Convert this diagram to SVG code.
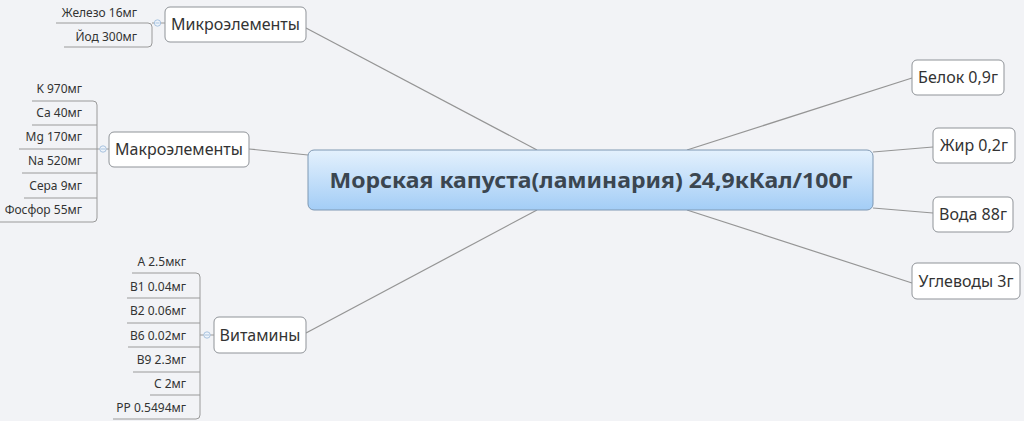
<svg xmlns="http://www.w3.org/2000/svg" width="1024" height="421" viewBox="0 0 1024 421">
<defs>
<linearGradient id="cg" x1="0" y1="0" x2="0" y2="1">
<stop offset="0" stop-color="#e4f1fd"/>
<stop offset="1" stop-color="#a3cdf6"/>
</linearGradient>
<style>
text{font-family:"Noto Sans","Open Sans","DejaVu Sans",sans-serif;fill:#333}
.box{fill:#fff;stroke:#8f9398;stroke-width:1}
.bt{font-size:16px;text-anchor:middle}
.st{font-size:12px;text-anchor:end}
.conn{stroke:#959595;stroke-width:1.2;fill:none}
.ul{stroke:#9a9a9a;stroke-width:1;fill:none}
.knob{fill:#eef4fb;stroke:#a9c3df;stroke-width:1}
.knobm{stroke:#a9c3df;stroke-width:1}
</style>
</defs>
<rect width="1024" height="421" fill="#f2f3f6"/>
<g id="connectors">
<path class="conn" d="M306,28 L537,150"/>
<path class="conn" d="M249,149 L308,155"/>
<path class="conn" d="M306,333 L537,210"/>
<path class="conn" d="M687,150 L912,78"/>
<path class="conn" d="M873,152 L933,147"/>
<path class="conn" d="M873,208 L933,213"/>
<path class="conn" d="M687,210 L912,283"/>
</g>
<g id="center">
<rect x="308" y="150" width="565" height="60" rx="6" fill="url(#cg)" stroke="#7e98b3" stroke-width="1"/>
<text x="591" y="188" text-anchor="middle" font-size="22" font-weight="bold" style="fill:#3b4650" textLength="523" lengthAdjust="spacingAndGlyphs">Морская капуста(ламинария) 24,9кКал/100г</text>
</g>
<g id="micro">
<rect class="box" x="165" y="7" width="141" height="35" rx="5"/>
<text class="bt" x="235.5" y="30">Микроэлементы</text>
<path class="ul" d="M56,23 H148 Q152,23 152,27 V43 Q152,47 148,47 H64"/>
<line class="ul" x1="152" y1="23" x2="165" y2="23"/>
<circle class="knob" cx="157.5" cy="23" r="3.2"/>
<line class="knobm" x1="155.5" y1="23" x2="159.5" y2="23"/>
<text class="st" x="137" y="17">Железо 16мг</text>
<text class="st" x="137" y="41">Йод 300мг</text>
</g>
<g id="macro">
<rect class="box" x="109" y="132" width="140" height="35" rx="5"/>
<text class="bt" x="179" y="155">Макроэлементы</text>
<path class="ul" d="M32,101 H93 Q97,101 97,105 V218 Q97,222 93,222 H0"/>
<path class="ul" d="M32,125 H97 M19,149 H109 M22,173 H97 M24,198 H97"/>
<circle class="knob" cx="103" cy="149" r="3.2"/>
<line class="knobm" x1="101" y1="149" x2="105" y2="149"/>
<text class="st" x="82" y="93">K 970мг</text>
<text class="st" x="82" y="117">Ca 40мг</text>
<text class="st" x="82" y="141">Mg 170мг</text>
<text class="st" x="82" y="165">Na 520мг</text>
<text class="st" x="82" y="190">Сера 9мг</text>
<text class="st" x="82" y="214">Фосфор 55мг</text>
</g>
<g id="vitamins">
<rect class="box" x="214" y="317" width="92" height="36" rx="5"/>
<text class="bt" x="260" y="341">Витамины</text>
<path class="ul" d="M132,273 H196 Q200,273 200,277 V415 Q200,419 196,419 H113"/>
<path class="ul" d="M127,298 H200 M127,323 H200 M128,347 H200 M133,372 H200 M150,395 H200"/>
<line class="ul" x1="200" y1="335" x2="214" y2="335"/>
<circle class="knob" cx="207" cy="335" r="3.2"/>
<line class="knobm" x1="205" y1="335" x2="209" y2="335"/>
<text class="st" x="186" y="266">A 2.5мкг</text>
<text class="st" x="186" y="291">B1 0.04мг</text>
<text class="st" x="186" y="315">B2 0.06мг</text>
<text class="st" x="186" y="340">B6 0.02мг</text>
<text class="st" x="186" y="364">B9 2.3мг</text>
<text class="st" x="186" y="388">C 2мг</text>
<text class="st" x="186" y="412">PP 0.5494мг</text>
</g>
<g id="belok">
<rect class="box" x="912" y="60" width="92" height="35" rx="5"/>
<text class="bt" x="958" y="83">Белок 0,9г</text>
</g>
<g id="zhir">
<rect class="box" x="933" y="128" width="82" height="35" rx="5"/>
<text class="bt" x="974" y="151">Жир 0,2г</text>
</g>
<g id="voda">
<rect class="box" x="933" y="197" width="80" height="35" rx="5"/>
<text class="bt" x="973" y="220">Вода 88г</text>
</g>
<g id="uglevody">
<rect class="box" x="912" y="263" width="108" height="36" rx="5"/>
<text class="bt" x="966" y="287">Углеводы 3г</text>
</g>
</svg>
